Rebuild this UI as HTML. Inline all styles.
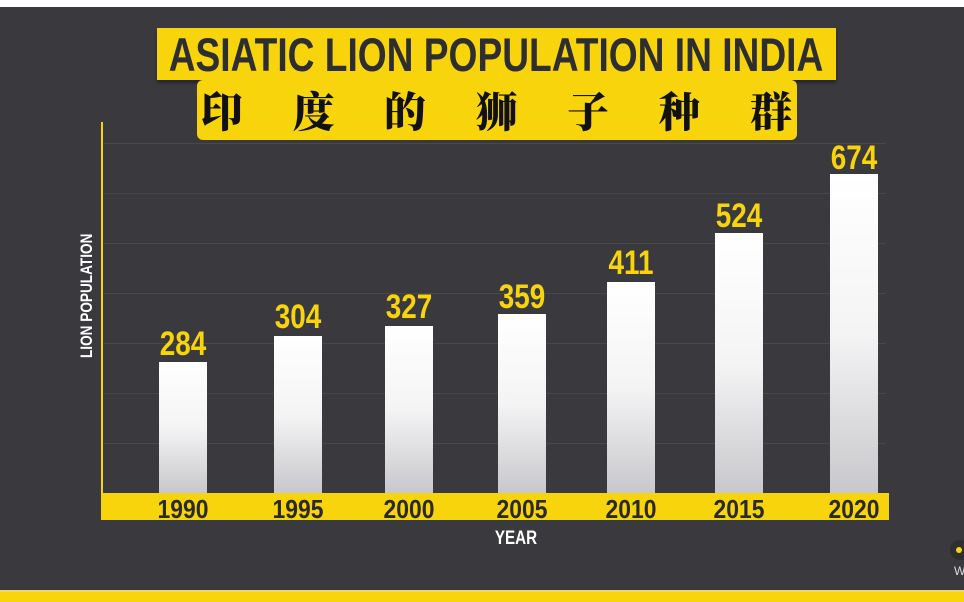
<!DOCTYPE html>
<html><head><meta charset="utf-8"><style>
*{margin:0;padding:0;box-sizing:border-box}
body{width:964px;height:602px;overflow:hidden;background:#3a3a3e;position:relative;font-family:"Liberation Sans",sans-serif;font-weight:bold}
.a{position:absolute;white-space:nowrap}
.grid{position:absolute;left:104px;width:782px;height:1px;background:#48484c}
.bar{position:absolute;width:48px;bottom:109px;background:linear-gradient(#fff 0%,#f4f4f5 50%,#c8c8cc 100%)}
.v{position:absolute;width:80px;text-align:center;color:#f7d40c;font-size:34px;line-height:34px;transform:scaleX(0.82)}
.y{position:absolute;top:496px;width:80px;text-align:center;color:#2a2a2a;font-size:26px;line-height:26px;transform:scaleX(0.88)}
</style></head><body>
<div class="a" style="left:0;top:0;width:964px;height:7px;background:#fff"></div>
<div class="a" style="left:157px;top:28px;width:679px;height:52px;background:#f7d40c;box-shadow:0 3px 3px rgba(0,0,0,.35)"></div>
<div class="a" style="left:496px;top:28px;font-size:47px;line-height:54px;color:#2e2e30;transform:translateX(-50%) scaleX(0.79)">ASIATIC LION POPULATION IN INDIA</div>
<div class="a" style="left:197px;top:80px;width:600px;height:60px;background:#f7d40c;border-radius:6px"></div>
<div class="a" style="left:201px;top:84px;font-family:'Noto Serif CJK SC','Noto Sans CJK SC',serif;font-weight:900;font-size:42px;line-height:52px;color:#111;letter-spacing:49.5px">印度的狮子种群</div>
<div class="grid" style="top:143px"></div><div class="grid" style="top:193px"></div><div class="grid" style="top:243px"></div><div class="grid" style="top:293px"></div><div class="grid" style="top:343px"></div><div class="grid" style="top:393px"></div><div class="grid" style="top:443px"></div>
<div class="a" style="left:101px;top:122px;width:2px;height:398px;background:#f7d40c"></div>
<div class="a" style="left:102px;top:493px;width:787px;height:27px;background:#f7d40c"></div>
<div class="bar" style="left:159px;top:362px"></div>
<div class="bar" style="left:274px;top:336px"></div>
<div class="bar" style="left:385px;top:326px"></div>
<div class="bar" style="left:498px;top:314px"></div>
<div class="bar" style="left:607px;top:282px"></div>
<div class="bar" style="left:715px;top:233px"></div>
<div class="bar" style="left:830px;top:174px"></div>
<div class="v" style="left:143px;top:327px">284</div>
<div class="v" style="left:258px;top:300px">304</div>
<div class="v" style="left:369px;top:290px">327</div>
<div class="v" style="left:482px;top:280px">359</div>
<div class="v" style="left:591px;top:246px">411</div>
<div class="v" style="left:699px;top:199px">524</div>
<div class="v" style="left:814px;top:141px">674</div>
<div class="y" style="left:143px">1990</div>
<div class="y" style="left:258px">1995</div>
<div class="y" style="left:369px">2000</div>
<div class="y" style="left:482px">2005</div>
<div class="y" style="left:591px">2010</div>
<div class="y" style="left:699px">2015</div>
<div class="y" style="left:814px">2020</div>
<div class="a" style="left:476px;top:528px;width:80px;text-align:center;color:#fff;font-size:19px;transform:scaleX(0.8)">YEAR</div>
<div class="a" style="left:17px;top:292px;width:140px;text-align:center;color:#fff;font-size:17px;transform:rotate(-90deg) scaleX(0.8)">LION POPULATION</div>
<div class="a" style="left:950px;top:540px;width:20px;height:20px;border-radius:50%;background:#2e2e30"></div>
<div class="a" style="left:956px;top:547px;width:6px;height:6px;border-radius:50%;background:#f7d40c"></div>
<div class="a" style="left:954px;top:564px;color:#ddd;font-size:12px;font-weight:normal">W</div>
<div class="a" style="left:0;top:590px;width:964px;height:2px;background:#e8d870"></div>
<div class="a" style="left:0;top:592px;width:964px;height:10px;background:#f7d40c"></div>
</body></html>
